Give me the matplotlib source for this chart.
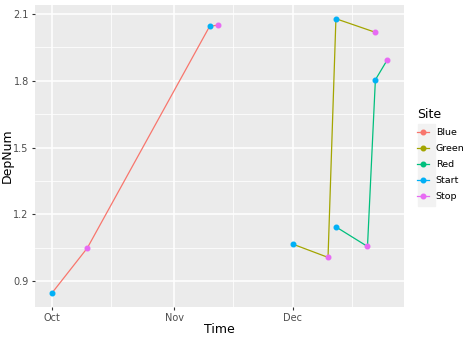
import matplotlib
matplotlib.use("Agg")
import matplotlib.pyplot as plt
import matplotlib.dates as mdates
import pandas as pd
from matplotlib.lines import Line2D
from matplotlib.patches import Rectangle

# ---- data -------------------------------------------------------------------
dates = ["2019-10-01", "2019-10-10", "2019-11-10", "2019-11-12",
         "2019-12-01", "2019-12-10", "2019-12-12", "2019-12-22",
         "2019-12-12", "2019-12-20", "2019-12-22", "2019-12-25"]
dep_num = [0.846, 1.049, 2.044, 2.049,
           1.067, 1.007, 2.078, 2.017,
           1.144, 1.056, 1.804, 1.893]
site = ["Blue"] * 4 + ["Green"] * 4 + ["Red"] * 4
event = ["Start", "Stop"] * 6

levels = ["Blue", "Green", "Red", "Start", "Stop"]
palette = ["#F8766D", "#A3A500", "#00BF7D", "#00B0F6", "#E76BF3"]
COL = dict(zip(levels, palette))

df = pd.DataFrame({"Time": pd.to_datetime(dates), "DepNum": dep_num,
                   "Site": site, "Event": event})

fig = plt.figure(figsize=(4.74, 3.38), dpi=100)
ax = fig.add_axes([35 / 474, 1 - 307 / 338, 369 / 474, 302 / 338])
ax.set_facecolor("#EBEBEB")

for s, g in df.groupby("Site"):
    g = g.sort_values("Time")
    ax.plot(g["Time"], g["DepNum"], color=COL[s], lw=0.9, zorder=3)
for e, g in df.groupby("Event"):
    ax.plot(g["Time"], g["DepNum"], ls="none", marker="o", ms=3.3,
            color=COL[e], zorder=4)

# ggplot-like expansion of 5%
t0, t1 = df["Time"].min(), df["Time"].max()
pad = (t1 - t0) * 0.05
ax.set_xlim(t0 - pad, t1 + pad)
y0, y1 = min(dep_num), max(dep_num)
ax.set_ylim(y0 - 0.05 * (y1 - y0), y1 + 0.05 * (y1 - y0))

ax.xaxis.set_major_locator(mdates.MonthLocator())
ax.xaxis.set_major_formatter(mdates.DateFormatter("%b"))
ax.xaxis.set_minor_locator(mdates.MonthLocator(bymonthday=16))
ax.set_yticks([0.9, 1.2, 1.5, 1.8, 2.1])
ax.set_yticks([1.05, 1.35, 1.65, 1.95], minor=True)
ax.grid(which="major", color="white", lw=1.1)
ax.grid(which="minor", color="white", lw=0.55)
ax.set_axisbelow(True)
for sp in ax.spines.values():
    sp.set_visible(False)
ax.tick_params(which="major", length=2.5, width=0.8, color="#333333",
               labelsize=7, labelcolor="#4D4D4D", pad=2)
ax.tick_params(which="minor", length=0)

ax.set_xlabel("Time", fontsize=9)
ax.set_ylabel("DepNum", fontsize=9)
ax.xaxis.set_label_coords(0.5, -0.052)
ax.yaxis.set_label_coords(-0.058, 0.5)

# legend with gray key background
handles = [Line2D([0], [0], color=COL[l], lw=0.9, marker="o", ms=3.3)
           for l in levels]
fig.add_artist(Rectangle((418 / 474, 1 - 206 / 338), 17 / 474, 82 / 338,
                         transform=fig.transFigure, color="#F2F2F2",
                         zorder=0))
leg = fig.legend(handles, levels, title="Site", loc="upper left",
                 bbox_to_anchor=(413 / 474, 1 - 104 / 338), frameon=False,
                 fontsize=6.8, title_fontsize=9, handlelength=1.3,
                 handletextpad=0.7, labelspacing=0.75, borderaxespad=0)
leg._legend_box.align = "left"

fig.savefig("out.png", dpi=100)
